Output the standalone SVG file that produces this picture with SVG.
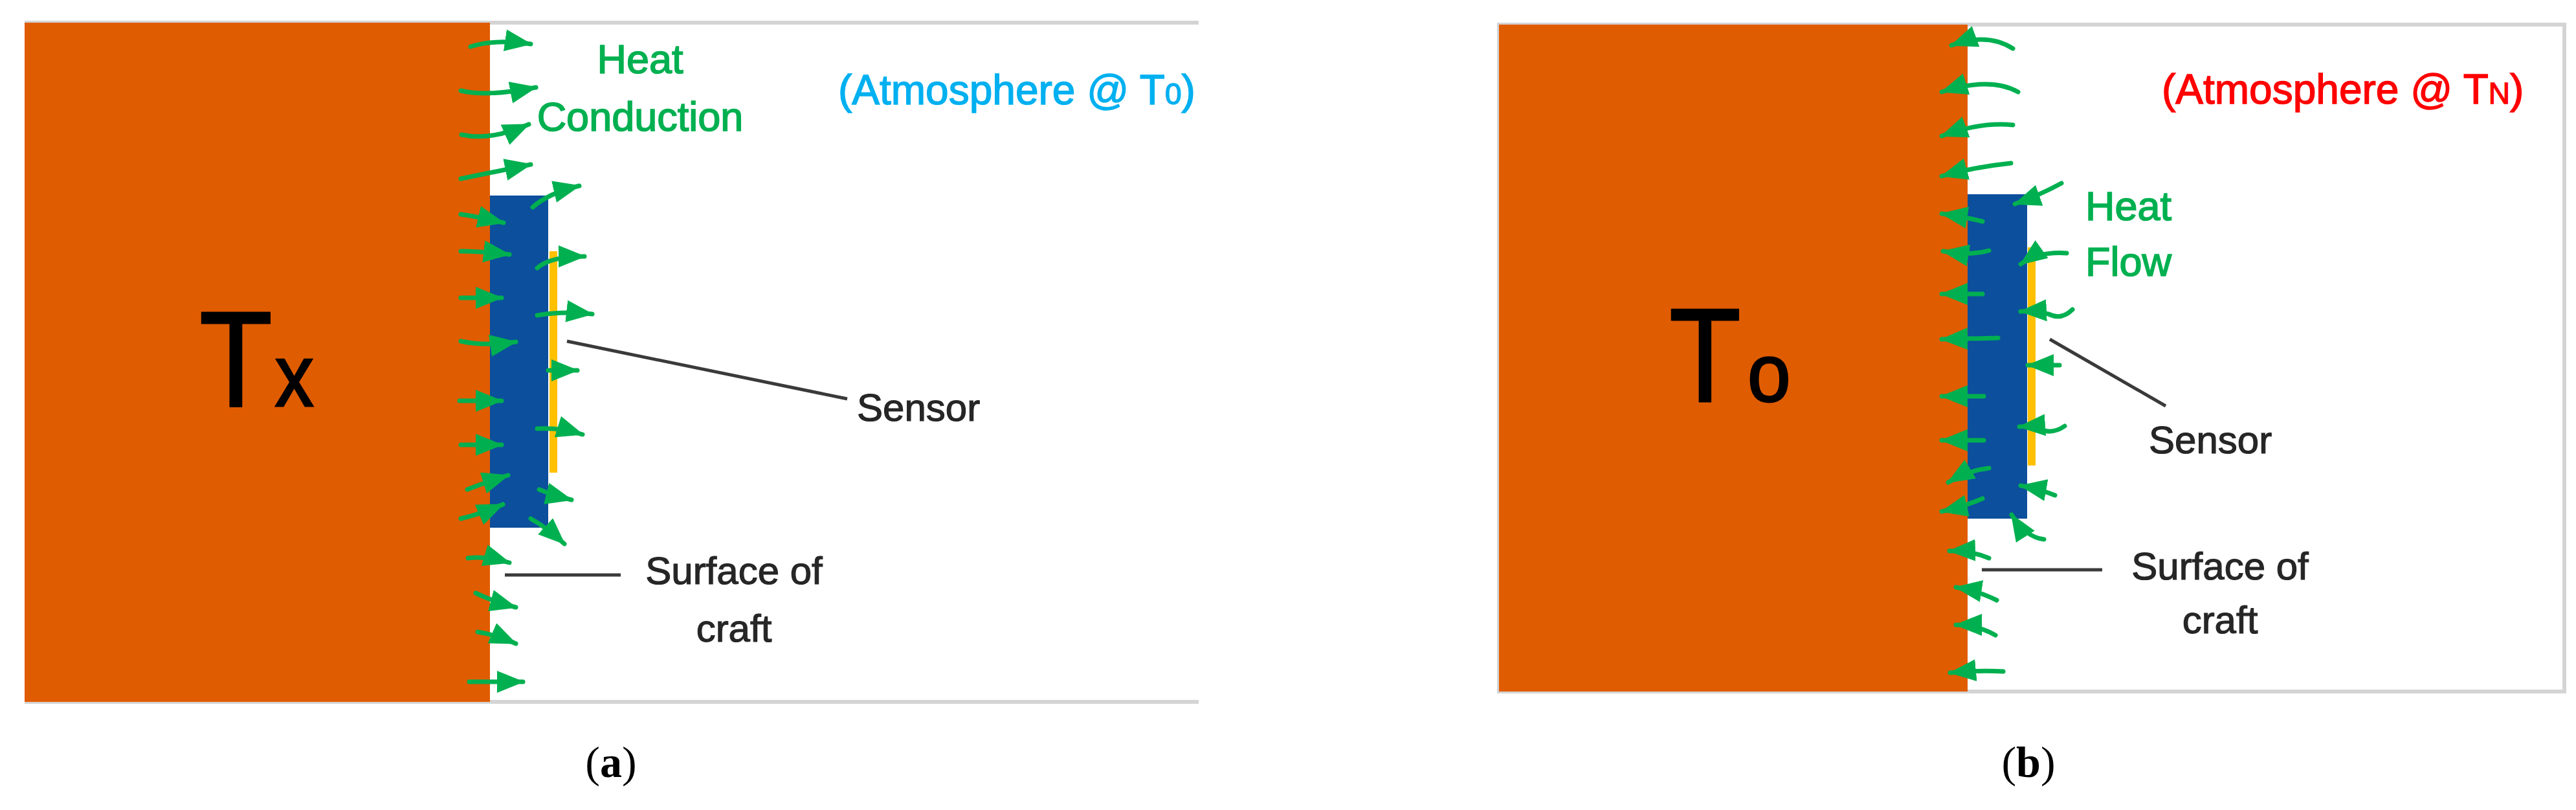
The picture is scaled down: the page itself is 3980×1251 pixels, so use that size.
<svg xmlns="http://www.w3.org/2000/svg" width="3980" height="1251" viewBox="0 0 3980 1251">
<style>
.frame{fill:none;stroke:#d4d4d4;stroke-width:6}
.body{fill:#E05C00}
.blue{fill:#0C4F9C}
.yel{fill:#FFC000}
.heat{fill:none;stroke:#00B050;stroke-width:7;stroke-linecap:round;marker-end:url(#ah)}
.lead{stroke:#3a3a3a;stroke-width:5;fill:none}
.lbl{font-family:"Liberation Sans",Arial,sans-serif;font-size:60px;fill:#262626;stroke:#262626;stroke-width:1.2}
.grn{font-family:"Liberation Sans",Arial,sans-serif;font-size:63px;fill:#00B050;stroke:#00B050;stroke-width:1.6}
.atm{font-family:"Liberation Sans",Arial,sans-serif;font-size:64px;stroke-width:1.4}
.big{font-family:"Liberation Sans",Arial,sans-serif;fill:#000;stroke:#000;stroke-width:3}
.cap{font-family:"Liberation Serif","Times New Roman",serif;font-size:68px;fill:#000}
</style>
<defs>
<marker id="ah" markerUnits="userSpaceOnUse" viewBox="0 0 44 36" markerWidth="44" markerHeight="36" refX="40" refY="17" orient="auto">
<path d="M0,0 L42,17 L0,34 z" fill="#00B050"/>
</marker>
</defs>
<rect width="3980" height="1251" fill="#fff"/>

<g id="panel-a">
<g id="frame-a">
<line x1="38" y1="35" x2="1852" y2="35" class="frame"/>
<line x1="38" y1="1084" x2="1852" y2="1084" class="frame"/>
</g>
<g id="craft-a"><rect class="body" x="38" y="35" width="719" height="1049"/>
<g transform="translate(308,627) scale(0.88,1)"><text class="big" font-size="210">T</text></g>
<g transform="translate(425,627) scale(0.88,1)"><text class="big" font-size="135">x</text></g>
</g>
<g id="block-a"><rect class="blue" x="757" y="302" width="90" height="513"/></g>
<g id="sensor-a"><rect class="yel" x="849" y="388" width="12" height="342"/></g>
<g id="label-heat-conduction"><text class="grn" text-anchor="middle"><tspan x="989" y="113">Heat</tspan><tspan x="989" y="202">Conduction</tspan></text></g>
<g id="label-atm-a"><text class="atm" fill="#00B0F0" stroke="#00B0F0" x="1295" y="161">(Atmosphere @ T<tspan font-size="46">0</tspan>)</text></g>
<g id="label-sensor-a"><text class="lbl" x="1324" y="650">Sensor</text></g>
<g id="label-surface-a"><text class="lbl" text-anchor="middle"><tspan x="1134" y="902">Surface of</tspan><tspan x="1134" y="991">craft</tspan></text></g>
<g id="caption-a"><text class="cap" x="944" y="1200" text-anchor="middle">(<tspan font-weight="bold">a</tspan>)</text></g>
</g>

<g id="panel-b">
<g id="frame-b"><rect class="frame" x="2316" y="38" width="1646" height="1030"/></g>
<g id="craft-b"><rect class="body" x="2316" y="38" width="724" height="1030"/>
<g transform="translate(2579,620) scale(0.88,1)"><text class="big" font-size="206">T</text></g>
<g transform="translate(2700,620) scale(0.95,1)"><text class="big" font-size="126">o</text></g>
</g>
<g id="block-b"><rect class="blue" x="3040" y="300" width="92" height="501"/></g>
<g id="sensor-b"><rect class="yel" x="3133" y="382" width="12" height="337"/></g>
<g id="label-heat-flow"><text class="grn"><tspan x="3222" y="340">Heat</tspan><tspan x="3222" y="426">Flow</tspan></text></g>
<g id="label-atm-b"><text class="atm" fill="#FF0000" stroke="#FF0000" x="3340" y="160">(Atmosphere @ T<tspan font-size="46">N</tspan>)</text></g>
<g id="label-sensor-b"><text class="lbl" x="3320" y="700">Sensor</text></g>
<g id="label-surface-b"><text class="lbl" text-anchor="middle"><tspan x="3430" y="895">Surface of</tspan><tspan x="3430" y="978">craft</tspan></text></g>
<g id="caption-b"><text class="cap" x="3134" y="1200" text-anchor="middle">(<tspan font-weight="bold">b</tspan>)</text></g>
</g>

<g id="connectors">
<g id="heat-arrows-a">
<path class="heat" d="M727,72 Q765,60 820,68"/>
<path class="heat" d="M712,140 Q752,150 828,135"/>
<path class="heat" d="M713,208 Q758,218 817,192"/>
<path class="heat" d="M712,276 L820,254"/>
<path class="heat" d="M823,320 Q848,298 895,287"/>
<path class="heat" d="M712,331 Q740,335 778,344"/>
<path class="heat" d="M712,388 Q745,388 787,393"/>
<path class="heat" d="M830,414 Q850,396 903,396"/>
<path class="heat" d="M712,460 L775,460"/>
<path class="heat" d="M830,487 Q870,480 915,485"/>
<path class="heat" d="M712,527 Q750,535 797,528"/>
<path class="heat" d="M847,572 L892,572"/>
<path class="heat" d="M710,619 L775,619"/>
<path class="heat" d="M830,662 Q865,660 900,671"/>
<path class="heat" d="M712,687 L775,687"/>
<path class="heat" d="M722,756 Q750,745 785,734"/>
<path class="heat" d="M712,801 Q745,793 777,779"/>
<path class="heat" d="M833,756 Q855,765 883,772"/>
<path class="heat" d="M820,801 Q845,815 872,840"/>
<path class="heat" d="M723,862 Q750,858 787,869"/>
<path class="heat" d="M735,916 Q760,928 797,938"/>
<path class="heat" d="M738,976 Q765,980 797,994"/>
<path class="heat" d="M725,1053 L808,1053"/>
</g>
<g id="heat-arrows-b">
<path class="heat" d="M3110,75 Q3070,50 3015,70"/>
<path class="heat" d="M3118,142 Q3075,118 3000,142"/>
<path class="heat" d="M3110,193 Q3060,188 3000,210"/>
<path class="heat" d="M3107,252 Q3050,258 3000,272"/>
<path class="heat" d="M3185,283 Q3150,302 3113,315"/>
<path class="heat" d="M3063,342 Q3040,336 3000,330"/>
<path class="heat" d="M3073,387 Q3045,395 3002,388"/>
<path class="heat" d="M3193,391 Q3150,388 3122,408"/>
<path class="heat" d="M3063,454 L3000,454"/>
<path class="heat" d="M3202,478 Q3185,495 3165,485 Q3145,480 3122,481"/>
<path class="heat" d="M3087,522 L3000,524"/>
<path class="heat" d="M3182,564 L3133,564"/>
<path class="heat" d="M3065,612 L3000,612"/>
<path class="heat" d="M3190,658 Q3170,672 3150,662 Q3135,658 3120,659"/>
<path class="heat" d="M3065,680 L3000,680"/>
<path class="heat" d="M3073,723 Q3040,727 3010,745"/>
<path class="heat" d="M3063,770 Q3035,782 3000,790"/>
<path class="heat" d="M3175,765 Q3150,755 3122,750"/>
<path class="heat" d="M3158,833 Q3130,830 3108,795"/>
<path class="heat" d="M3073,862 Q3045,850 3012,851"/>
<path class="heat" d="M3085,927 Q3055,912 3022,907"/>
<path class="heat" d="M3083,981 Q3055,965 3022,965"/>
<path class="heat" d="M3095,1037 Q3055,1035 3013,1039"/>
</g>
<g id="leaders">
<line class="lead" x1="876" y1="527" x2="1309" y2="616"/>
<line class="lead" x1="780" y1="888" x2="959" y2="888"/>
<line class="lead" x1="3167" y1="524" x2="3346" y2="627"/>
<line class="lead" x1="3062" y1="880" x2="3248" y2="880"/>
</g>
</g>
</svg>
